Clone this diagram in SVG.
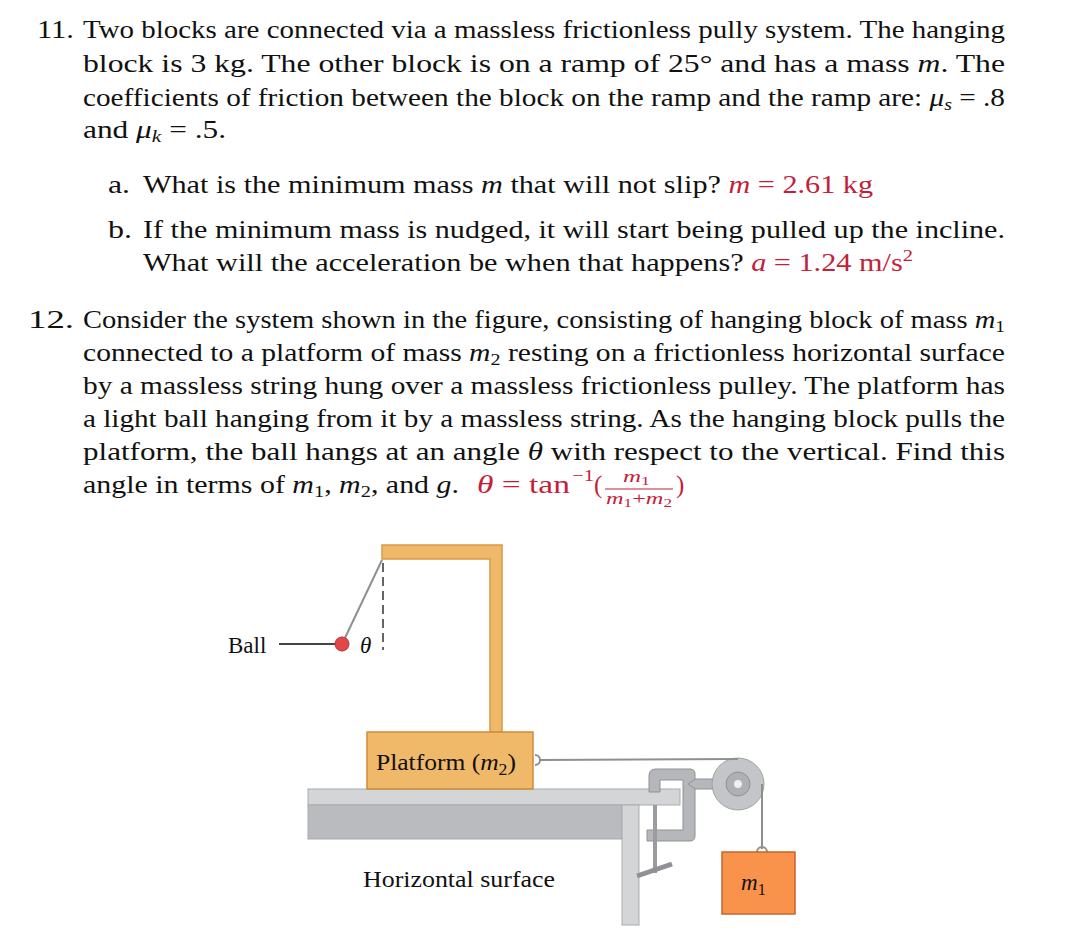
<svg xmlns="http://www.w3.org/2000/svg" width="1079" height="939" viewBox="0 0 1079 939">
<style>
text{font-family:"Liberation Serif","Times New Roman",serif;font-size:25px;fill:#111}
.i{font-style:italic}
.r{fill:#c41e3a}
.s{font-size:17px}
.lbl{font-family:"Liberation Serif",serif;font-size:23px}
</style>
<rect width="1079" height="939" fill="#fff"/>
<g id="text">
<text x="37" y="38" textLength="37" lengthAdjust="spacingAndGlyphs">11.</text>
<text x="83" y="38" textLength="922" lengthAdjust="spacingAndGlyphs">Two blocks are connected via a massless frictionless pully system. The hanging</text>
<text x="83" y="72" textLength="922" lengthAdjust="spacingAndGlyphs">block is 3 kg. The other block is on a ramp of 25° and has a mass <tspan class="i">m</tspan>. The</text>
<text x="83" y="106" textLength="922" lengthAdjust="spacingAndGlyphs">coefficients of friction between the block on the ramp and the ramp are: <tspan class="i">μ<tspan class="s" dy="4">s</tspan></tspan><tspan dy="-4"> = .8</tspan></text>
<text x="83" y="138" textLength="143" lengthAdjust="spacingAndGlyphs">and <tspan class="i">μ<tspan class="s" dy="4">k</tspan></tspan><tspan dy="-4"> = .5.</tspan></text>
<text x="108" y="193" textLength="22" lengthAdjust="spacingAndGlyphs">a.</text>
<text x="143" y="193" textLength="730" lengthAdjust="spacingAndGlyphs">What is the minimum mass <tspan class="i">m</tspan> that will not slip? <tspan class="r"><tspan class="i">m</tspan> = 2.61 kg</tspan></text>
<text x="108" y="238" textLength="24" lengthAdjust="spacingAndGlyphs">b.</text>
<text x="143" y="238" textLength="862" lengthAdjust="spacingAndGlyphs">If the minimum mass is nudged, it will start being pulled up the incline.</text>
<text x="143" y="271" textLength="770" lengthAdjust="spacingAndGlyphs">What will the acceleration be when that happens? <tspan class="r"><tspan class="i">a</tspan> = 1.24 m/s<tspan class="s" dy="-10">2</tspan></tspan></text>
<text x="28" y="328" textLength="46" lengthAdjust="spacingAndGlyphs">12.</text>
<text x="83" y="328" textLength="922" lengthAdjust="spacingAndGlyphs">Consider the system shown in the figure, consisting of hanging block of mass <tspan class="i">m</tspan><tspan class="s" dy="4">1</tspan></text>
<text x="83" y="361" textLength="922" lengthAdjust="spacingAndGlyphs">connected to a platform of mass <tspan class="i">m</tspan><tspan class="s" dy="4">2</tspan><tspan dy="-4"> resting on a frictionless horizontal surface</tspan></text>
<text x="83" y="394" textLength="922" lengthAdjust="spacingAndGlyphs">by a massless string hung over a massless frictionless pulley. The platform has</text>
<text x="83" y="427" textLength="922" lengthAdjust="spacingAndGlyphs">a light ball hanging from it by a massless string. As the hanging block pulls the</text>
<text x="83" y="460" textLength="922" lengthAdjust="spacingAndGlyphs">platform, the ball hangs at an angle <tspan class="i">θ</tspan> with respect to the vertical. Find this</text>
<text x="83" y="493" textLength="376" lengthAdjust="spacingAndGlyphs">angle in terms of <tspan class="i">m</tspan><tspan class="s" dy="4">1</tspan><tspan dy="-4">, </tspan><tspan class="i">m</tspan><tspan class="s" dy="4">2</tspan><tspan dy="-4">, and </tspan><tspan class="i">g</tspan>.</text>
<text x="477" y="493" class="r" textLength="93" lengthAdjust="spacingAndGlyphs"><tspan class="i">θ</tspan> = tan</text>
<text x="572" y="481" class="r s" textLength="22" lengthAdjust="spacingAndGlyphs">−1</text>
<text x="594" y="493" class="r">(</text>
<text x="623" y="482" class="r s i" textLength="27" lengthAdjust="spacingAndGlyphs">m<tspan dy="3" font-size="12" font-style="normal">1</tspan></text>
<line x1="605" y1="489" x2="673" y2="489" stroke="#c41e3a" stroke-width="1.2"/>
<text x="606" y="504" class="r s" textLength="66" lengthAdjust="spacingAndGlyphs"><tspan class="i">m</tspan><tspan dy="3" font-size="12">1</tspan><tspan dy="-3">+</tspan><tspan class="i">m</tspan><tspan dy="3" font-size="12">2</tspan></text>
<text x="676" y="493" class="r">)</text>
</g>
<g id="table">
<rect x="308" y="789" width="372" height="16" fill="#d3d5d7" stroke="#a9abae"/>
<rect x="308" y="805" width="314" height="34" fill="#b9bbbe" stroke="#a9abae"/>
<rect x="622" y="805" width="17" height="120" fill="#d3d5d7" stroke="#a9abae"/>
</g>
<g id="clamp" fill="#b5b7ba" stroke="#8f9194">
<path d="M649 776 q0 -7 7 -7 h34 q5 0 5 5 v62 q0 5 -5 5 h-43 v-11 h36 v-50 h-23 v12 h-11 z"/>
<path d="M695 779 h43 v10 h-43 l-7 -5 z"/>
<line x1="655" y1="805" x2="655" y2="873" stroke="#9a9c9f" stroke-width="4"/>
<line x1="637" y1="876" x2="672" y2="864" stroke="#8f9194" stroke-width="5"/>
</g>
<g id="pulley">
<circle cx="738" cy="784" r="26" fill="#c3c5c8" stroke="#a0a2a5"/>
<circle cx="738" cy="784" r="12" fill="#aeb0b3" stroke="#8f9194"/>
<circle cx="738" cy="784" r="4" fill="#eee"/>
</g>
<g id="connectors" fill="none" stroke="#8d8f92" stroke-width="2">
<line x1="540" y1="760" x2="738" y2="759"/>
<line x1="762" y1="784" x2="762" y2="849"/>
<path d="M535 755 a5 5 0 0 1 0 10"/>
<path d="M757 852 a5 5 0 0 1 10 0"/>
<line x1="382" y1="560" x2="344" y2="640"/>
<line x1="383" y1="563" x2="383" y2="650" stroke="#333" stroke-width="1.5" stroke-dasharray="9 5"/>
<line x1="279" y1="644" x2="336" y2="644" stroke="#444"/>
</g>
<g id="frame">
<path d="M382 545 h120 v187 h-12 v-173 h-108 z" fill="#f0b96a" stroke="#d89a45" stroke-width="1.5"/>
</g>
<g id="platform">
<rect x="367" y="732" width="166" height="57" fill="#f0b96a" stroke="#d08a3a" stroke-width="1.5"/>
<text x="376" y="770" class="lbl" textLength="140" lengthAdjust="spacingAndGlyphs">Platform (<tspan class="i">m</tspan><tspan font-size="16" dy="5">2</tspan><tspan dy="-5">)</tspan></text>
</g>
<g id="ball">
<circle cx="342" cy="644" r="7" fill="#e04848" stroke="#c03030"/>
<text x="228" y="653" class="lbl">Ball</text>
<text x="360" y="653" class="lbl i">θ</text>
</g>
<g id="m1">
<rect x="722" y="852" width="73" height="62" fill="#f9924a" stroke="#c8652a" stroke-width="1.5"/>
<text x="741" y="890" class="lbl i">m<tspan font-size="16" dy="5" font-style="normal">1</tspan></text>
</g>
<text x="363" y="887" class="lbl" textLength="192" lengthAdjust="spacingAndGlyphs">Horizontal surface</text>
</svg>
